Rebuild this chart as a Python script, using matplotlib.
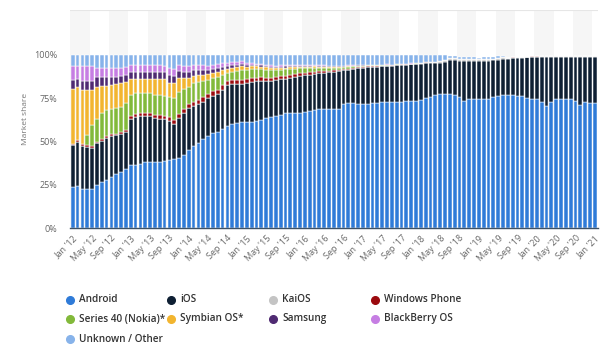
import matplotlib
matplotlib.use("Agg")
import matplotlib.pyplot as plt
from matplotlib.lines import Line2D
import numpy as np

plt.rcParams['font.family'] = ['Open Sans', 'DejaVu Sans']

# monthly values, Jan 2012 .. Jan 2021 (share in %)
months = ["Jan", "Feb", "Mar", "Apr", "May", "Jun", "Jul", "Aug", "Sep", "Oct", "Nov", "Dec"]
years = [12, 13, 14, 15, 16, 17, 18, 19, 20, 21]

android = [23.5, 24.5, 22.8, 22.8, 22.8, 25, 26.5, 28, 29.5, 31, 32.5, 34,
           36.4, 36.4, 37, 38, 38, 38, 38, 38.5, 39.3, 39.7, 40.3, 42.2,
           45, 47.4, 49.3, 51.5, 53.2, 54.7, 55.7, 57, 59, 60, 60.5, 61,
           61.5, 61, 62, 62.5, 63.5, 64.3, 64.5, 65.5, 66.3, 66.3, 66.3, 66.5,
           67, 67.5, 68.2, 68.5, 68.5, 68.6, 68.5, 69, 71.5, 72, 72, 71.7,
           71.7, 71.8, 72, 72.3, 72.6, 72.6, 72.8, 73, 73, 73.2, 73.5, 73.6,
           74.2, 75, 75.5, 77, 77.5, 77.5, 77.3, 77, 75.5, 73.2, 74.5, 74.3,
           74.5, 74.5, 74.7, 75.5, 76.5, 76.7, 76.7, 76.8, 76.5, 76, 75, 74.5,
           74.3, 73, 70.5, 73, 74.3, 74.7, 74.6, 74.4, 73.5, 71, 72.6, 72.3,
           72]
ios = [24.5, 25.5, 24.7, 24.2, 23.7, 24, 24, 24, 23.5, 22.5, 22, 21.5,
       26.6, 27.9, 27.7, 26.9, 26.9, 25.4, 25.2, 24.3, 22.7, 20.4, 23.1, 24.1,
       24.2, 23.1, 22.2, 21.5, 21.8, 21.8, 21.8, 23, 23.5, 23.3, 22.7, 22.2,
       22.5, 23.5, 22.8, 22.5, 21.5, 20.7, 20.8, 20.3, 20, 20.5, 21, 21.2,
       21.2, 21.1, 20.8, 20.8, 21.1, 21.3, 21.7, 21.5, 19.5, 19.4, 19.8, 20.5,
       20.8, 21, 21, 20.9, 20.7, 20.8, 20.8, 21, 21.2, 21.1, 21, 21.2,
       20.8, 20.2, 19.7, 18.3, 18, 18.5, 19.7, 20, 21, 23.3, 22, 22.2,
       22, 22.1, 22, 21.3, 20.8, 20.8, 21.1, 21.2, 21.7, 22.4, 23.5, 24.1,
       24.4, 25.8, 28.3, 25.8, 24.5, 24.1, 24.2, 24.4, 25.3, 27.8, 26.2, 26.5,
       26.8]
kaios = [0, 0, 0, 0, 0, 0, 0, 0, 0, 0, 0, 0,
         0, 0, 0, 0, 0, 0, 0, 0, 0, 0, 0, 0,
         0, 0, 0, 0, 0, 0, 0, 0, 0, 0, 0, 0,
         0, 0, 0, 0, 0, 0, 0, 0, 0, 0, 0, 0,
         0, 0, 0, 0, 0, 0, 0, 0, 0, 0, 0, 0,
         0, 0, 0, 0, 0, 0, 0, 0, 0, 0, 0, 0,
         0.3, 0.4, 0.5, 0.6, 0.7, 0.8, 1.0, 1.0, 1.0, 1.0, 1.0, 1.0,
         1.0, 1.0, 1.0, 1.0, 1.0, 1.0, 0.4, 0.4, 0.4, 0.4, 0.4, 0.4,
         0.3, 0.3, 0.3, 0.3, 0.3, 0.3, 0.3, 0.3, 0.3, 0.3, 0.3, 0.3,
         0.3]
windows = [0.8, 0.8, 0.8, 0.9, 0.9, 1.0, 1.0, 1.0, 1.1, 1.1, 1.2, 1.2,
           1.5, 1.5, 1.6, 1.7, 1.8, 1.9, 2.0, 2.1, 2.2, 2.3, 2.3, 2.4,
           2.4, 2.5, 2.5, 2.5, 2.5, 2.5, 2.4, 2.4, 2.3, 2.3, 2.2, 2.2,
           2.1, 2.1, 2.0, 2.0, 1.9, 1.9, 1.8, 1.8, 1.7, 1.7, 1.6, 1.6,
           1.5, 1.4, 1.3, 1.2, 1.1, 1.0, 0.9, 0.8, 0.7, 0.7, 0.6, 0.6,
           0.5, 0.5, 0.5, 0.4, 0.4, 0.4, 0.3, 0.3, 0.3, 0.3, 0.2, 0.2,
           0.2, 0.2, 0.2, 0.2, 0.2, 0.2, 0.2, 0.2, 0.2, 0.2, 0.2, 0.2,
           0.1, 0.1, 0.1, 0.1, 0.1, 0.1, 0.1, 0.1, 0.1, 0.1, 0.1, 0.1,
           0.1, 0.1, 0.1, 0.1, 0.1, 0.1, 0.1, 0.1, 0.1, 0.1, 0.1, 0.1,
           0.1]
series40 = [0, 0, 0, 5.9, 12.1, 13, 15, 15, 14.6, 14.9, 14.4, 15.3,
            12.4, 12, 11.9, 11.2, 11.1, 11.6, 11.7, 11.6, 11.7, 12.6, 13.1, 11.8,
            10.1, 10.6, 10.6, 9.5, 8, 7.5, 7.6, 6.1, 4.6, 4.4, 5.1, 5.6,
            5.2, 5.0, 4.8, 4.6, 4.4, 4.2, 4.0, 3.8, 3.6, 3.4, 3.2, 3.0,
            2.8, 2.6, 2.4, 2.2, 2.0, 1.8, 1.6, 1.4, 1.2, 1.0, 0.9, 0.8,
            0.7, 0.6, 0.5, 0.4, 0.3, 0.3, 0.2, 0.2, 0.1, 0.1, 0.1, 0.1,
            0, 0, 0, 0, 0, 0, 0, 0, 0, 0, 0, 0,
            0, 0, 0, 0, 0, 0, 0, 0, 0, 0, 0, 0,
            0, 0, 0, 0, 0, 0, 0, 0, 0, 0, 0, 0,
            0]
symbian = [31.7, 30.7, 31.7, 26.1, 20.5, 18.5, 15.5, 14, 13.8, 13.5, 13.4, 12.5,
           8.9, 8, 7.6, 8, 8, 8.9, 8.9, 9.3, 8.1, 8.6, 7.7, 6,
           5.1, 4.4, 3.9, 3.6, 3.3, 3.1, 2.9, 2.8, 2.7, 2.5, 2.4, 2.3,
           1.9, 1.8, 1.7, 1.6, 1.5, 1.4, 1.3, 1.2, 1.1, 1.0, 0.9, 0.8,
           0.7, 0.6, 0.6, 0.5, 0.5, 0.4, 0.4, 0.3, 0.3, 0.3, 0.2, 0.2,
           0.1, 0.1, 0.1, 0.1, 0.1, 0.1, 0.1, 0.1, 0.1, 0.1, 0.1, 0.1,
           0, 0, 0, 0, 0, 0, 0, 0, 0, 0, 0, 0,
           0, 0, 0, 0, 0, 0, 0, 0, 0, 0, 0, 0,
           0, 0, 0, 0, 0, 0, 0, 0, 0, 0, 0, 0,
           0]
samsung = [5.0, 4.5, 4.8, 4.8, 4.8, 5.5, 5.3, 5.2, 4.8, 4.5, 4.2, 3.8,
           4.5, 4.5, 4.5, 4.5, 4.5, 4.4, 4.4, 4.3, 4.4, 4.4, 4.0, 3.8,
           3.2, 3.0, 2.8, 2.6, 2.4, 2.2, 2.0, 1.8, 1.6, 1.5, 1.4, 1.3,
           0.9, 0.9, 0.8, 0.8, 0.7, 0.7, 0.6, 0.6, 0.6, 0.5, 0.5, 0.5,
           0.5, 0.5, 0.4, 0.4, 0.4, 0.3, 0.3, 0.3, 0.3, 0.2, 0.2, 0.2,
           0.1, 0.1, 0.1, 0.1, 0.1, 0.1, 0.1, 0.1, 0.1, 0.1, 0.1, 0.1,
           0, 0, 0, 0, 0, 0, 0, 0, 0, 0, 0, 0,
           0, 0, 0, 0, 0, 0, 0, 0, 0, 0, 0, 0,
           0, 0, 0, 0, 0, 0, 0, 0, 0, 0, 0, 0,
           0]
blackberry = [7.8, 7.8, 8.7, 8.7, 8.7, 5.3, 5.2, 5.3, 5.3, 5.0, 4.8, 4.5,
              4.0, 3.9, 3.9, 3.8, 3.8, 3.7, 3.7, 3.6, 3.9, 3.9, 3.5, 3.4,
              3.4, 3.2, 3.0, 2.8, 2.6, 2.4, 2.2, 2.0, 1.9, 1.8, 1.7, 1.6,
              1.0, 1.0, 0.9, 0.9, 0.8, 0.8, 0.8, 0.7, 0.7, 0.7, 0.6, 0.6,
              0.6, 0.5, 0.5, 0.5, 0.4, 0.4, 0.4, 0.3, 0.3, 0.3, 0.3, 0.2,
              0.2, 0.2, 0.2, 0.2, 0.2, 0.2, 0.1, 0.1, 0.1, 0.1, 0.1, 0.1,
              0, 0, 0, 0, 0, 0, 0, 0, 0, 0, 0, 0,
              0, 0, 0, 0, 0, 0, 0, 0, 0, 0, 0, 0,
              0, 0, 0, 0, 0, 0, 0, 0, 0, 0, 0, 0,
              0]
other = [6.7, 6.2, 6.5, 6.6, 6.5, 7.7, 7.5, 7.5, 7.4, 7.5, 7.5, 7.2,
         5.7, 5.8, 5.8, 5.9, 5.9, 6.1, 6.1, 6.3, 7.7, 8.1, 6.0, 6.3,
         6.6, 5.8, 5.7, 6.0, 6.2, 5.8, 5.4, 4.9, 4.4, 4.2, 4.0, 3.8,
         4.9, 4.7, 5.0, 5.1, 5.7, 6.0, 6.2, 6.1, 6.0, 5.9, 5.9, 5.8,
         5.7, 5.8, 5.8, 5.9, 6.0, 6.2, 6.2, 6.4, 6.2, 6.1, 6.0, 5.8,
         5.9, 5.7, 5.6, 5.6, 5.6, 5.5, 5.6, 5.2, 5.1, 5.0, 4.9, 4.6,
         4.5, 4.2, 4.1, 3.9, 3.6, 3.0, 1.0, 1.0, 1.0, 1.0, 1.0, 1.0,
         0.8, 0.8, 0.8, 0.8, 0.8, 0.8, 0, 0, 0, 0, 0, 0,
         0, 0, 0, 0, 0, 0, 0, 0, 0, 0, 0, 0,
         0]

labels = ["Android", "iOS", "KaiOS", "Windows Phone", "Series 40 (Nokia)*",
          "Symbian OS*", "Samsung", "BlackBerry OS", "Unknown / Other"]
colors = ["#2f7bd8", "#0e1f33", "#c4c4c4", "#9b0a0e", "#82b93a",
          "#f2b52f", "#4f2a72", "#c67ee3", "#87b3ea"]
data = [android, ios, kaios, windows, series40, symbian, samsung, blackberry, other]

n = len(android)
x = np.arange(n)
tick_pos = list(range(0, n, 4))
tick_labels = [f"{months[i % 12]} '{years[i // 12]}" for i in tick_pos]

fig = plt.figure(figsize=(6.02, 3.51), dpi=100)
ax = fig.add_axes([0.116, 0.35, 0.877, 0.622])

# alternating light bands behind the columns
for start in range(0, n, 8):
    ax.axvspan(start - 0.5, start + 3.5, color="#f6f6f6", zorder=0, lw=0)

bottom = np.zeros(n)
for vals, col in zip(data, colors):
    vals = np.array(vals, dtype=float)
    ax.bar(x, vals, bottom=bottom, width=0.78, color=col, edgecolor="white",
           linewidth=0.35, zorder=2)
    bottom += vals

ax.set_xlim(-0.6, n - 0.4)
ax.set_ylim(0, 126)
ax.set_yticks([0, 25, 50, 75, 100])
ax.set_yticklabels(["0%", "25%", "50%", "75%", "100%"])
ax.set_xticks(tick_pos)
ax.set_xticklabels(tick_labels, rotation=45, ha="right", rotation_mode="anchor")
ax.tick_params(axis="both", length=0, labelsize=6.5, colors="#666666")
ax.tick_params(axis="x", pad=4)
ax.tick_params(axis="y", pad=9)
for s in ["left", "right", "top"]:
    ax.spines[s].set_visible(False)
ax.spines["bottom"].set_color("#3e5266")
ax.spines["bottom"].set_linewidth(1.0)
ax.spines["bottom"].set_zorder(3)
ax.axhline(126, color="#e6e6e6", lw=0.8, zorder=1)
ax.set_ylabel("Market share", fontsize=6, color="#777777", labelpad=4)

# legend, laid out in rows like the original
col_x = [70, 171, 273, 375]
row_y = [300, 319, 339]
for k, (lab, col) in enumerate(zip(labels, colors)):
    r, c = divmod(k, 4)
    fx = col_x[c] / 602
    fy = 1 - row_y[r] / 351
    fig.add_artist(Line2D([fx], [fy], marker="o", markersize=5.5, color=col,
                          linestyle="none", transform=fig.transFigure))
    fig.text(fx + 9 / 602, fy, lab, fontsize=7.2, color="#333333",
             va="center", ha="left", fontweight="semibold")

fig.savefig("out.png", dpi=100)
